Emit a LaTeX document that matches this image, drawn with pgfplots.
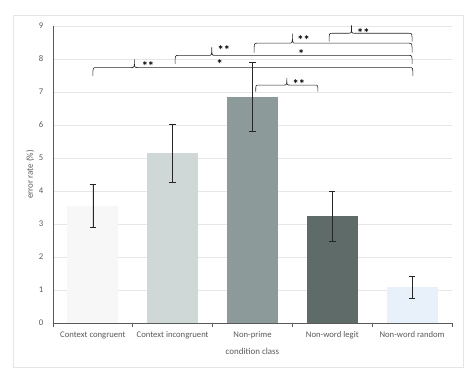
\documentclass[border=0pt]{standalone}
\usepackage{fontspec}
\setmainfont{Carlito}
\usepackage{pgfplots}
\pgfplotsset{compat=1.18}
\definecolor{axgray}{HTML}{595959}
\definecolor{gridgray}{HTML}{E6E6E6}
\definecolor{cA}{HTML}{F7F7F7}
\definecolor{cB}{HTML}{CFD8D7}
\definecolor{cC}{HTML}{8C9B99}
\definecolor{cD}{HTML}{5E6B69}
\definecolor{cE}{HTML}{E8F0FA}
\definecolor{ebar}{HTML}{262626}
\newcommand\sigbrace[6]{%
  \draw[black!85, line width=0.6pt]
    (axis cs:#1,#5) .. controls (axis cs:#1,#4) .. (axis cs:#1+0.04,#4)
    -- (axis cs:#3-0.04,#4) .. controls (axis cs:#3,#4) .. (axis cs:#3,#6)
    .. controls (axis cs:#3,#4) .. (axis cs:#3+0.04,#4)
    -- (axis cs:#2-0.04,#4) .. controls (axis cs:#2,#4) .. (axis cs:#2,#5);}
\begin{document}
\begin{tikzpicture}
\path[use as bounding box] (0,0) rectangle (474bp,377bp);
\draw[gray!20, line width=0.6pt] (13bp,10bp) rectangle (463bp,362bp);
\begin{axis}[
  at={(53bp,54bp)}, anchor=south west,
  scale only axis, width=399bp, height=297bp,
  xmin=-0.5, xmax=4.5, ymin=0, ymax=9,
  axis x line=bottom, axis y line=left,
  axis line style={axgray, line width=0.8pt, -},
  xtick={0,1,2,3,4},
  xticklabels={Context congruent, Context incongruent, Non-prime, Non-word legit, Non-word random},
  major x tick style={draw=none},
  minor xtick={-0.5,0.5,1.5,2.5,3.5,4.5},
  minor tick length=4bp,
  minor x tick style={axgray, line width=0.8pt},
  tick align=outside,
  ytick={0,...,9},
  major y tick style={draw=none},
  ymajorgrids, grid style={gridgray, line width=0.6pt},
  tick label style={font=\fontsize{8.7}{10}\selectfont, text=axgray},
  /pgf/number format/assume math mode=true,
  xticklabel style={yshift=-1bp},
  yticklabel style={xshift=-2bp},
  xlabel={condition class}, ylabel={error rate (\%)},
  label style={font=\fontsize{9}{11}\selectfont, text=axgray},
  xlabel style={yshift=-2bp},
  ylabel style={yshift=-2bp},
  bar width=0.64,
  clip=false,
  error bars/error bar style={ebar, line width=0.8pt},
  error bars/error mark options={ebar, rotate=90, mark size=3.2bp, line width=0.8pt},
]
\addplot[ybar, bar shift=0pt, fill=cA, draw=none, error bars/.cd, y dir=both, y explicit]
  coordinates {(0,3.55) +- (0,0.66)};
\addplot[ybar, bar shift=0pt, fill=cB, draw=none, error bars/.cd, y dir=both, y explicit]
  coordinates {(1,5.14) +- (0,0.87)};
\addplot[ybar, bar shift=0pt, fill=cC, draw=none, error bars/.cd, y dir=both, y explicit]
  coordinates {(2,6.85) +- (0,1.04)};
\addplot[ybar, bar shift=0pt, fill=cD, draw=none, error bars/.cd, y dir=both, y explicit]
  coordinates {(3,3.23) +- (0,0.76)};
\addplot[ybar, bar shift=0pt, fill=cE, draw=none, error bars/.cd, y dir=both, y explicit]
  coordinates {(4,1.08) +- (0,0.345)};
% significance brackets: x1, x2, xpeak, yline, yend, ypeak
\sigbrace{0}{4.01}{0.52}{7.74}{7.48}{7.99}
\sigbrace{1.03}{4.0}{1.49}{8.11}{7.85}{8.37}
\sigbrace{2.02}{4.0}{2.5}{8.48}{8.19}{8.77}
\sigbrace{2.96}{4.0}{3.24}{8.78}{8.53}{9.02}
\sigbrace{2.04}{2.82}{2.43}{7.21}{7.01}{7.43}
\tikzset{sig/.style={font=\fontsize{12.5}{12.5}\selectfont\bfseries, inner sep=0pt, anchor=center}}
\node[sig] at (axis cs:0.69,7.78) {**};
\node[sig] at (axis cs:1.59,7.85) {*};
\node[sig] at (axis cs:1.64,8.26) {**};
\node[sig] at (axis cs:2.64,8.56) {**};
\node[sig] at (axis cs:2.61,8.15) {*};
\node[sig] at (axis cs:3.39,8.79) {**};
\node[sig] at (axis cs:2.58,7.24) {**};
\end{axis}
\end{tikzpicture}
\end{document}
